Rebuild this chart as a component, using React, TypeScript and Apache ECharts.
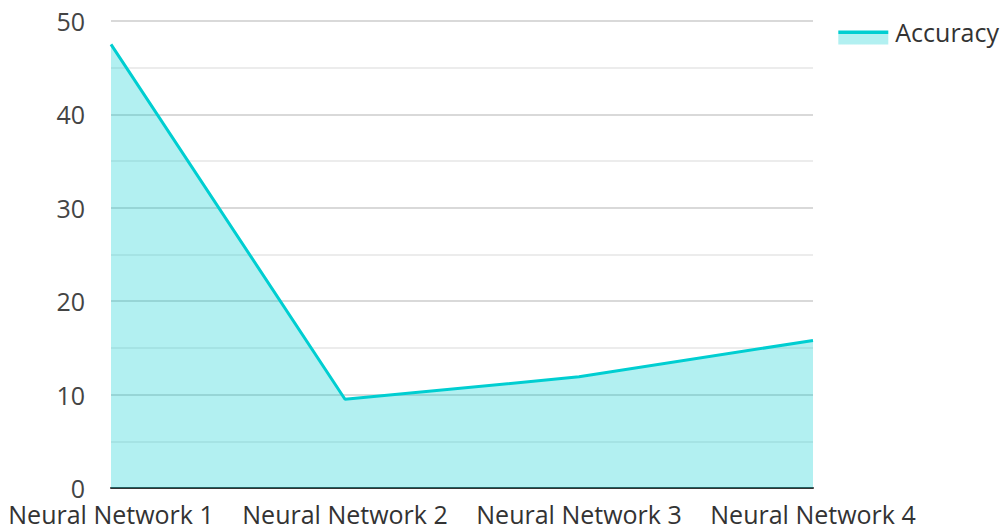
import React, { useEffect, useRef } from "react";
import * as echarts from "echarts";

const categories = ["Neural Network 1", "Neural Network 2", "Neural Network 3", "Neural Network 4"];
const accuracy = [47.5, 9.5, 11.9, 15.8];
const seriesName = "Accuracy";

export default function App() {
  const ref = useRef<HTMLDivElement>(null);
  useEffect(() => {
    if (!ref.current) return;
    const chart = echarts.init(ref.current, undefined, { renderer: "svg" });
    const teal = "#00CED1";
    const fill = "rgba(0,206,209,0.3)";
    chart.setOption({
      animation: false,
      textStyle: { fontFamily: "Open Sans" },
      grid: { left: 111, right: 190, top: 21, bottom: 41 },
      legend: {
        show: true,
        right: 4,
        top: 19,
        padding: 0,
        itemWidth: 50,
        itemHeight: 14,
        icon: "rect",
        formatter: "{a|{name}}",
        textStyle: {
          fontSize: 25,
          color: "#333",
          fontFamily: "Open Sans",
          rich: { a: { fontSize: 25, color: "#333", fontFamily: "Open Sans", padding: [0, 0, 12, 2] } },
        },
        data: [
          {
            name: seriesName,
            itemStyle: {
              color: {
                type: "linear",
                x: 0,
                y: 0,
                x2: 0,
                y2: 1,
                colorStops: [
                  { offset: 0, color: teal },
                  { offset: 0.28, color: teal },
                  { offset: 0.28, color: "#b2f0f1" },
                  { offset: 1, color: "#b2f0f1" },
                ],
              },
            },
          },
        ],
      },
      xAxis: {
        type: "category",
        data: categories,
        boundaryGap: false,
        axisLine: { show: true, lineStyle: { color: "#333", width: 2 } },
        axisTick: { show: false },
        axisLabel: { fontSize: 25, color: "#333", margin: 13, interval: 0, fontFamily: "Open Sans" },
        splitLine: { show: false },
      },
      yAxis: {
        type: "value",
        min: 0,
        max: 50,
        interval: 10,
        axisLine: { show: false },
        axisTick: { show: false },
        axisLabel: { fontSize: 25, color: "#444", margin: 26, fontFamily: "Open Sans" },
        splitLine: { show: true, lineStyle: { color: "#cccccc", width: 1.5 } },
        minorTick: { show: false, splitNumber: 2 },
        minorSplitLine: { show: true, lineStyle: { color: "#e6e6e6", width: 1.5 } },
      },
      series: [
        {
          name: seriesName,
          type: "line",
          data: accuracy,
          smooth: false,
          symbol: "none",
          lineStyle: { color: teal, width: 3 },
          itemStyle: { color: teal },
          areaStyle: { color: fill, opacity: 1 },
        },
      ],
    });
    return () => chart.dispose();
  }, []);
  return <div ref={ref} style={{ width: 1003, height: 529, position: "absolute", left: 0, top: 0 }} />;
}
